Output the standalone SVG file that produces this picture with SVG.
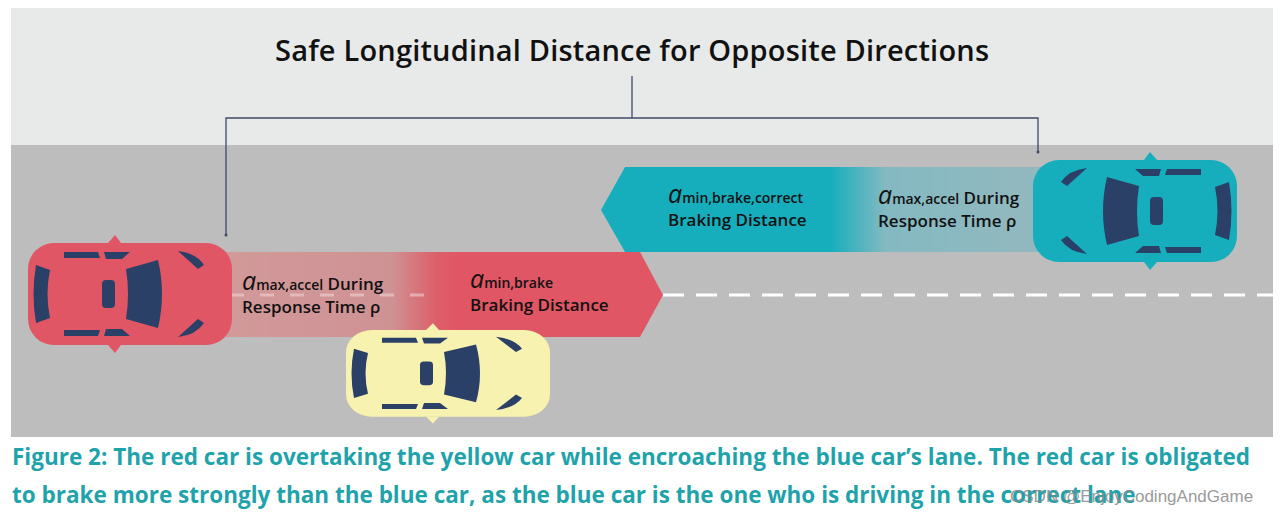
<svg xmlns="http://www.w3.org/2000/svg" width="1283" height="516" viewBox="0 0 1283 516">
<defs>
<linearGradient id="rg" x1="210" y1="0" x2="663" y2="0" gradientUnits="userSpaceOnUse">
<stop offset="0" stop-color="#d29a9a"/><stop offset="0.4" stop-color="#cf9294"/><stop offset="0.5" stop-color="#dc5f6a"/><stop offset="0.55" stop-color="#e05664"/><stop offset="1" stop-color="#e05664"/>
</linearGradient>
<linearGradient id="bg" x1="601" y1="0" x2="1060" y2="0" gradientUnits="userSpaceOnUse">
<stop offset="0" stop-color="#16aebd"/><stop offset="0.5" stop-color="#16aebd"/><stop offset="0.62" stop-color="#84b9c2"/><stop offset="1" stop-color="#94b8bd"/>
</linearGradient>
<g id="win" fill="#2b4066">
<path d="M8,22 Q3,51 8,80 L22,75 Q17,51 22,27Z"/>
<path d="M98,26 L130,17 Q138,51 130,85 L98,76 Q102,51 98,26Z"/>
<rect x="74" y="37" width="13" height="28" rx="4"/>
<path d="M36,9 L70,9 L72,15 L36,15Z M76,9 L102,9 L94,16 L78,16Z"/>
<path d="M36,93 L70,93 L72,87 L36,87Z M76,93 L102,93 L94,86 L78,86Z"/>
<path d="M150,8 Q168,10 176,22 L170,26Z"/>
<path d="M150,94 Q168,92 176,80 L170,76Z"/>
</g>
</defs>
<style>
.t{font-family:"Open Sans","Liberation Sans",sans-serif;fill:#111}
.lab{font-size:17px;font-weight:600}
.a{font-size:25px;font-style:italic;font-weight:400}
.s{font-size:14px;font-weight:600}
.cap{font-family:"Open Sans","Liberation Sans",sans-serif;font-size:22.5px;font-weight:700;fill:#1fa3ab}
.br{stroke:#3f4a6a;stroke-width:1.3;fill:none}
</style>
<rect width="1283" height="516" fill="#fff"/>
<rect x="11" y="8" width="1262" height="137" fill="#e8e9e9"/>
<rect x="11" y="145" width="1262" height="292" fill="#bdbdbd"/>
<text class="t" x="632" y="61" text-anchor="middle" font-size="29" font-weight="600" textLength="714">Safe Longitudinal Distance for Opposite Directions</text>
<g id="connectors">
<path class="br" d="M632,76 V118 M226,235 V118 H1038 V152"/>
<circle cx="226" cy="235" r="1.5" fill="#3f4a6a"/><circle cx="1038" cy="152" r="1.5" fill="#3f4a6a"/>
</g>
<line x1="663" y1="295" x2="1273" y2="295" stroke="#fff" stroke-width="3" stroke-dasharray="21 12"/>
<g id="red-arrow">
<path d="M210,252 H640 L663,295 L640,337 H210Z" fill="url(#rg)"/>
<line x1="230" y1="295" x2="440" y2="295" stroke="#f2d0d0" stroke-width="3" stroke-dasharray="14 16" opacity="0.6"/>
<text class="t" x="242" y="290"><tspan class="a">a</tspan><tspan class="s">max,accel</tspan><tspan class="lab"> During</tspan></text>
<text class="t lab" x="242" y="313">Response Time ρ</text>
<text class="t" x="470" y="288"><tspan class="a">a</tspan><tspan class="s">min,brake</tspan></text>
<text class="t lab" x="470" y="311">Braking Distance</text>
</g>
<g id="blue-arrow">
<path d="M1060,167 H625 L601,210 L625,252 H1060Z" fill="url(#bg)"/>
<text class="t" x="668" y="203"><tspan class="a">a</tspan><tspan class="s">min,brake,correct</tspan></text>
<text class="t lab" x="668" y="226">Braking Distance</text>
<text class="t" x="878" y="204"><tspan class="a">a</tspan><tspan class="s">max,accel</tspan><tspan class="lab"> During</tspan></text>
<text class="t lab" x="878" y="227">Response Time ρ</text>
</g>
<g id="yellow-car" transform="translate(346,330) scale(1,0.85)">
<path d="M80,0 L87,-8 L93,0Z M80,102 L87,110 L93,102Z" fill="#f7f2b0"/>
<rect x="0" y="0" width="204" height="102" rx="26" fill="#f7f2b0"/>
<use href="#win"/>
</g>
<g id="red-car" transform="translate(28,243)">
<path d="M80,0 L87,-8 L93,0Z M80,102 L87,110 L93,102Z" fill="#e05664"/>
<rect x="0" y="0" width="204" height="102" rx="26" fill="#e05664"/>
<use href="#win"/>
</g>
<g id="blue-car" transform="translate(1237,160) scale(-1,1)">
<path d="M80,0 L87,-8 L93,0Z M80,102 L87,110 L93,102Z" fill="#16aebd"/>
<rect x="0" y="0" width="204" height="102" rx="26" fill="#16aebd"/>
<use href="#win"/>
</g>
<text class="cap" x="12" y="465" textLength="1238">Figure 2: The red car is overtaking the yellow car while encroaching the blue car’s lane. The red car is obligated</text>
<text class="cap" x="12" y="503">to brake more strongly than the blue car, as the blue car is the one who is driving in the correct lane</text>
<text x="1010" y="502" font-family="Liberation Sans,sans-serif" font-size="17" fill="#8a8a8a" opacity="0.85">CSDN @EnjoyCodingAndGame</text>
</svg>
